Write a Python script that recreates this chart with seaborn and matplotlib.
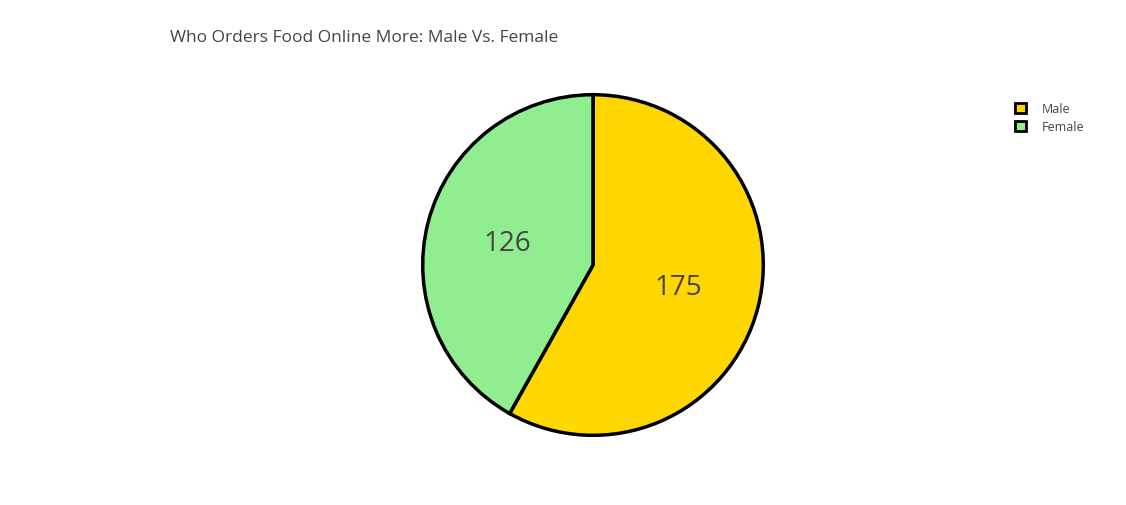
import matplotlib
matplotlib.use("Agg")
import matplotlib.pyplot as plt
from matplotlib.patches import Patch
import seaborn as sns

sns.set_theme(style="white")
plt.rcParams['font.family'] = ['Open Sans', 'DejaVu Sans']

genders = ["Male", "Female"]
counts = [175, 126]
colors = ["gold", "lightgreen"]

fig = plt.figure(figsize=(11.26, 5.06), dpi=100)
ax = fig.add_axes([(593 - 172) / 1126, (240 - 172) / 506, 344 / 1126, 344 / 506])

total = sum(counts)
ax.pie(counts, colors=colors, startangle=90, counterclock=False,
       autopct=lambda p: f"{round(p * total / 100)}", pctdistance=0.52,
       wedgeprops=dict(edgecolor="black", linewidth=2.5),
       textprops=dict(fontsize=20, color="#444444"))
ax.set_xlim(-1.01, 1.01)
ax.set_ylim(-1.01, 1.01)
ax.set_aspect("equal")
ax.axis("off")

fig.text(170 / 1126, 1 - 38 / 506, "Who Orders Food Online More: Male Vs. Female",
         fontsize=12.5, color="#444444", va="center")

handles = [Patch(facecolor=c, edgecolor="black", linewidth=2, label=g)
           for g, c in zip(genders, colors)]
leg = fig.legend(handles=handles, loc="upper left", bbox_to_anchor=(1004 / 1126, 1 - 92 / 506),
                 frameon=False, fontsize=9, handlelength=0.9, handleheight=0.9,
                 handletextpad=1.2, labelspacing=0.4)
for t in leg.get_texts():
    t.set_color("#444444")

fig.savefig("out.png", dpi=100)
